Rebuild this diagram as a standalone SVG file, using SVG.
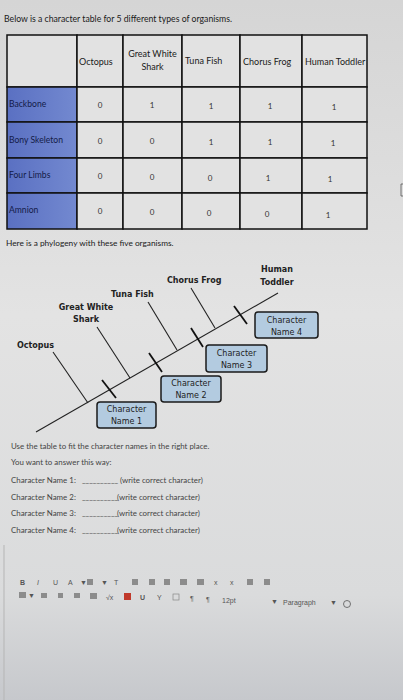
<svg xmlns="http://www.w3.org/2000/svg" width="403" height="700" viewBox="0 0 403 700">
<defs>
<linearGradient id="bg" x1="0" y1="0" x2="0" y2="1">
<stop offset="0" stop-color="#d5d5d5"/>
<stop offset="0.45" stop-color="#e3e3e3"/>
<stop offset="0.85" stop-color="#dadbdc"/>
<stop offset="1" stop-color="#c6c8cc"/>
</linearGradient>
<linearGradient id="blue" x1="0" y1="0" x2="1" y2="0">
<stop offset="0" stop-color="#5a70c2"/>
<stop offset="1" stop-color="#7389d0"/>
</linearGradient>
<style>
.t{font-family:Lato,"Liberation Sans",sans-serif;fill:#1a1a1a}
.h{font-size:9px}
.v{font-size:8px;text-anchor:middle;fill:#333}
.rl{font-size:8.6px;fill:#141c48}
.cell{fill:#e2e2e2;stroke:#111;stroke-width:1.5}
.lab{fill:url(#blue);stroke:#111;stroke-width:1.5}
.c{font-family:"DejaVu Sans","Liberation Sans",sans-serif;font-size:8px;font-weight:bold;fill:#222}
.bx{fill:#b3cbe0;stroke:#1a1a1a;stroke-width:1.5}
.bt{font-family:"DejaVu Sans","Liberation Sans",sans-serif;font-size:8px;fill:#222;text-anchor:middle}
.ln{stroke:#222;stroke-width:1.1;fill:none}
.tk{stroke:#111;stroke-width:1.8}
.q{font-family:Lato,"Liberation Sans",sans-serif;font-size:7.9px;fill:#444}
.tb{font-family:"Liberation Sans",sans-serif;font-size:7px;fill:#555}
.ic{fill:#8c8c8c}
</style>
</defs>
<rect width="403" height="700" fill="url(#bg)"/>
<text class="t" x="4" y="22" font-size="8.7">Below is a character table for 5 different types of organisms.</text>
<g id="table">
<rect class="cell" x="7" y="35" width="70" height="52"/>
<rect class="cell" x="77" y="35" width="46" height="52"/>
<rect class="cell" x="123" y="35" width="59" height="52"/>
<rect class="cell" x="182" y="35" width="58" height="52"/>
<rect class="cell" x="240" y="35" width="62" height="52"/>
<rect class="cell" x="302" y="35" width="65" height="52"/>
<text class="t h" x="79" y="65">Octopus</text>
<text class="t h" x="152.5" y="57" text-anchor="middle">Great White</text>
<text class="t h" x="152.5" y="70" text-anchor="middle">Shark</text>
<text class="t h" x="185" y="64">Tuna Fish</text>
<text class="t h" x="243" y="65">Chorus Frog</text>
<text class="t h" x="305" y="65">Human Toddler</text>
<g id="row-backbone">
<rect class="lab" x="7" y="87" width="70" height="35"/>
<rect class="cell" x="77" y="87" width="46" height="35"/>
<rect class="cell" x="123" y="87" width="59" height="35"/>
<rect class="cell" x="182" y="87" width="58" height="35"/>
<rect class="cell" x="240" y="87" width="62" height="35"/>
<rect class="cell" x="302" y="87" width="65" height="35"/>
<text class="t rl" x="9" y="107">Backbone</text>
<text class="t v" x="100" y="108">0</text><text class="t v" x="152" y="108">1</text><text class="t v" x="211" y="109">1</text><text class="t v" x="270" y="109">1</text><text class="t v" x="334" y="110">1</text>
</g>
<g id="row-bony">
<rect class="lab" x="7" y="122" width="70" height="36"/>
<rect class="cell" x="77" y="122" width="46" height="36"/>
<rect class="cell" x="123" y="122" width="59" height="36"/>
<rect class="cell" x="182" y="122" width="58" height="36"/>
<rect class="cell" x="240" y="122" width="62" height="36"/>
<rect class="cell" x="302" y="122" width="65" height="36"/>
<text class="t rl" x="9" y="143">Bony Skeleton</text>
<text class="t v" x="100" y="144">0</text><text class="t v" x="152" y="144">0</text><text class="t v" x="211" y="145">1</text><text class="t v" x="270" y="145">1</text><text class="t v" x="333" y="146">1</text>
</g>
<g id="row-limbs">
<rect class="lab" x="7" y="158" width="70" height="35"/>
<rect class="cell" x="77" y="158" width="46" height="35"/>
<rect class="cell" x="123" y="158" width="59" height="35"/>
<rect class="cell" x="182" y="158" width="58" height="35"/>
<rect class="cell" x="240" y="158" width="62" height="35"/>
<rect class="cell" x="302" y="158" width="65" height="35"/>
<text class="t rl" x="9" y="178">Four Limbs</text>
<text class="t v" x="100" y="179">0</text><text class="t v" x="152" y="180">0</text><text class="t v" x="210" y="181">0</text><text class="t v" x="268" y="181">1</text><text class="t v" x="330" y="182">1</text>
</g>
<g id="row-amnion">
<rect class="lab" x="7" y="193" width="70" height="36"/>
<rect class="cell" x="77" y="193" width="46" height="36"/>
<rect class="cell" x="123" y="193" width="59" height="36"/>
<rect class="cell" x="182" y="193" width="58" height="36"/>
<rect class="cell" x="240" y="193" width="62" height="36"/>
<rect class="cell" x="302" y="193" width="65" height="36"/>
<text class="t rl" x="9" y="213">Amnion</text>
<text class="t v" x="100" y="214">0</text><text class="t v" x="152" y="215">0</text><text class="t v" x="209" y="216">0</text><text class="t v" x="267" y="217">0</text><text class="t v" x="328" y="218">1</text>
</g>
</g>
<path d="M403 184 h-2 v12 h2" fill="none" stroke="#555" stroke-width="0.8"/>
<text class="t" x="6" y="246" font-size="8.3">Here is a phylogeny with these five organisms.</text>
<g id="connectors">
<line class="ln" x1="36" y1="432" x2="278" y2="293"/>
<line class="ln" x1="53" y1="352" x2="88" y2="403"/>
<line class="ln" x1="97" y1="327" x2="130" y2="378"/>
<line class="ln" x1="148" y1="302" x2="177" y2="350"/>
<line class="ln" x1="191" y1="288" x2="215" y2="328"/>
<line class="tk" x1="102" y1="380" x2="116" y2="398"/>
<line class="tk" x1="149" y1="353" x2="162" y2="372"/>
<line class="tk" x1="191" y1="328" x2="203" y2="347"/>
<line class="tk" x1="234" y1="306" x2="247" y2="324"/>
</g>
<g id="octopus"><text class="c" x="17" y="348">Octopus</text></g>
<g id="shark"><text class="c" x="86" y="310" text-anchor="middle">Great White</text><text class="c" x="86" y="322" text-anchor="middle">Shark</text></g>
<g id="tuna"><text class="c" x="111" y="297">Tuna Fish</text></g>
<g id="frog"><text class="c" x="167" y="283">Chorus Frog</text></g>
<g id="human"><text class="c" x="277" y="272" text-anchor="middle">Human</text><text class="c" x="277" y="285" text-anchor="middle">Toddler</text></g>
<g id="cn1"><rect class="bx" x="97" y="402" width="59" height="26" rx="3"/><text class="bt" x="126.5" y="412">Character</text><text class="bt" x="126.5" y="424">Name 1</text></g>
<g id="cn2"><rect class="bx" x="161" y="376" width="60" height="26" rx="3"/><text class="bt" x="191" y="386">Character</text><text class="bt" x="191" y="398">Name 2</text></g>
<g id="cn3"><rect class="bx" x="206" y="345" width="61" height="27" rx="3"/><text class="bt" x="236.5" y="355.5">Character</text><text class="bt" x="236.5" y="368">Name 3</text></g>
<g id="cn4"><rect class="bx" x="255" y="312" width="63" height="26" rx="3"/><text class="bt" x="286.5" y="322.5">Character</text><text class="bt" x="286.5" y="335">Name 4</text></g>
<g id="instructions">
<text class="q" x="11" y="449" fill="#333">Use the table to fit the character names in the right place.</text>
<text class="q" x="11" y="465">You want to answer this way:</text>
<text class="q" x="11" y="483">Character Name 1: <tspan x="82">__________</tspan><tspan x="120">(write correct character)</tspan></text>
<text class="q" x="11" y="500">Character Name 2: <tspan x="82">__________</tspan><tspan x="117">(write correct character)</tspan></text>
<text class="q" x="11" y="516">Character Name 3: <tspan x="82">__________</tspan><tspan x="117">(write correct character)</tspan></text>
<text class="q" x="11" y="533">Character Name 4: <tspan x="82">__________</tspan><tspan x="117">(write correct character)</tspan></text>
</g>
<g id="editor">
<line x1="4" y1="545" x2="4" y2="700" stroke="#b5b5b5" stroke-width="1"/>
<text class="tb" x="20" y="585" font-weight="bold">B</text>
<text class="tb" x="37" y="585" font-style="italic">I</text>
<text class="tb" x="53" y="585">U</text>
<text class="tb" x="68" y="585">A</text>
<text class="tb" x="80" y="585" font-size="5">▼</text>
<rect class="ic" x="87" y="579" width="6" height="6"/>
<text class="tb" x="101" y="585" font-size="5">▼</text>
<text class="tb" x="114" y="585">T</text>
<rect class="ic" x="132" y="579" width="6" height="6"/>
<rect class="ic" x="149" y="579" width="6" height="6"/>
<rect class="ic" x="164" y="579" width="6" height="6"/>
<rect class="ic" x="180" y="579" width="7" height="6"/>
<rect class="ic" x="197" y="579" width="7" height="6"/>
<text class="tb" x="214" y="585">x</text>
<text class="tb" x="230" y="585">x</text>
<rect class="ic" x="247" y="579" width="6" height="6"/>
<rect class="ic" x="264" y="579" width="6" height="6"/>
<rect class="ic" x="19" y="592" width="7" height="6"/>
<text class="tb" x="28" y="598" font-size="5">▼</text>
<rect class="ic" x="41" y="593" width="6" height="5"/>
<rect class="ic" x="58" y="593" width="5" height="5"/>
<rect class="ic" x="74" y="593" width="6" height="5"/>
<rect class="ic" x="90" y="593" width="7" height="6"/>
<text class="tb" x="106" y="600" font-size="6">√x</text>
<rect x="124" y="593" width="7" height="7" fill="#c0392b"/>
<text class="tb" x="140" y="600" fill="#2a4db0" font-weight="bold">U</text>
<text class="tb" x="157" y="600">Y</text>
<rect x="173" y="594" width="6" height="6" fill="none" stroke="#888" stroke-width="0.7"/>
<text class="tb" x="190" y="601">¶</text>
<text class="tb" x="206" y="602">¶</text>
<text class="tb" x="222" y="603" font-size="6">12pt</text>
<text class="tb" x="271" y="604" font-size="5">▼</text>
<text class="tb" x="283" y="605" font-size="6.5">Paragraph</text>
<text class="tb" x="330" y="605" font-size="5">▼</text>
<circle cx="347" cy="604" r="3.5" fill="none" stroke="#555" stroke-width="0.8"/>
</g>
</svg>
